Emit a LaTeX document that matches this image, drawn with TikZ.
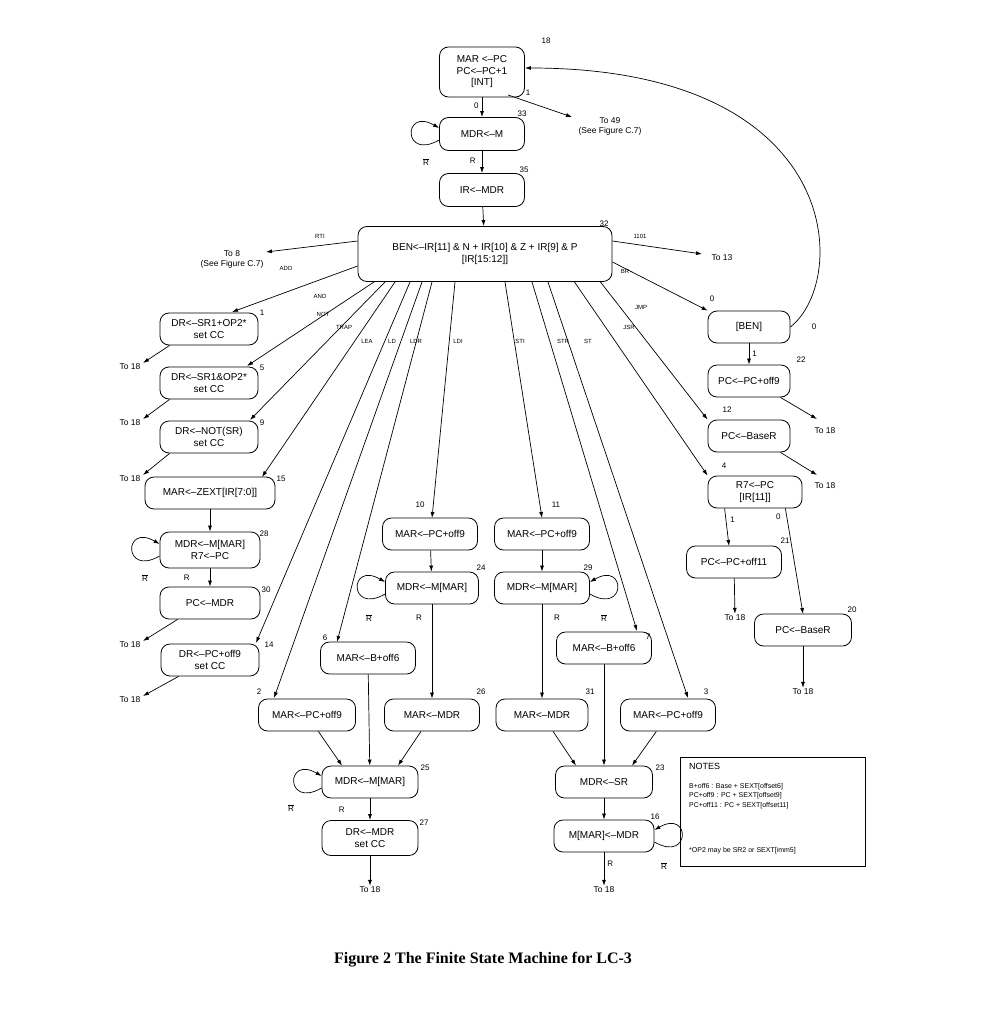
\documentclass[tikz,border=0pt]{standalone}
\usepackage{fontspec}
\setmainfont{Liberation Sans}
\usetikzlibrary{arrows.meta,calc}
\begin{document}
\begin{tikzpicture}[x=1pt,y=-1pt,
  st/.style={draw,rounded corners=9pt,line width=0.8pt,align=center,inner sep=1pt,minimum height=32pt,font=\fontsize{10}{11.5}\selectfont},
  arr/.style={-{Latex[length=6pt,width=4pt]},line width=0.7pt},
  num/.style={font=\fontsize{8}{8}\selectfont,inner sep=0pt},
  el/.style={font=\fontsize{6}{6}\selectfont,inner sep=0pt},
  to/.style={font=\fontsize{8.5}{10}\selectfont,inner sep=1pt,align=center}]
\useasboundingbox (0,0) rectangle (983,1017);
\fill[white] (0,0) rectangle (983,1017);
\newcommand{\rb}{$\overline{\mbox{R}}$}
% top
\node[st,minimum width=85pt,minimum height=50pt] (n18) at (482,72) {MAR <–PC\\PC<–PC+1\\{[INT]}};
\node[num] at (546,41) {18};
\node[st,minimum width=85pt,minimum height=33pt] (n33) at (482,134) {MDR<–M};
\node[num] at (522,114) {33};
\node[st,minimum width=85pt,minimum height=33pt] (n35) at (482,190) {IR<–MDR};
\node[num] at (524,170) {35};
\node[st,minimum width=254pt,minimum height=55pt] (n32) at (485,254) {BEN<–IR[11] \& N + IR[10] \& Z + IR[9] \& P\\{[IR[15:12]]}};
\node[num] at (604,224) {32};
\draw[arr] (n18) -- node[num,left=3pt,pos=0.4]{0} (n33);
\draw[arr] (n33) -- node[num,left=6pt,pos=0.45]{R} (n35);
\node[num] at (426,162) {\rb};
\draw[arr] ([yshift=-6pt]n33.west) to[out=210,in=150,looseness=9] ([yshift=6pt]n33.west);
\draw[arr] (n35) -- (n32);
\node[to] (t49) at (610,126) {To 49\\(See Figure C.7)};
\draw[arr] (508,95) -- (572,117);
\node[num] at (528,93) {1};
% RTI / 1101
\node[to] (t8) at (232,259) {To 8\\(See Figure C.7)};
\draw[arr] (n32.west|-0,241) -- (266,252);
\node[el] at (320,236) {RTI};
\node[to] (t13) at (722,258) {To 13};
\draw[arr] (n32.east|-0,241) -- (702,254);
\node[el] at (640,236) {1101};
% BR
\node[st,minimum width=82pt] (ben) at (749,327) {[BEN]};
\draw[arr] (n32.east|-0,262) -- (ben.north west);
\node[el] at (625,271) {BR};
\node[num] at (712,299) {0};
\draw[arr] (ben.east) .. controls (850,280) and (845,68) .. (n18.east|-0,68);
\node[num] at (814,327) {0};
\node[st,minimum width=82pt] (n22) at (749,381) {PC<–PC+off9};
\node[num] at (801,360) {22};
\draw[arr] (ben) -- node[num,right=3pt]{1} (n22);
\node[to] (a1) at (825,431) {To 18};
\draw[arr] (n22.south east) ++(-10,0) -- (817,419);
\node[st,minimum width=82pt] (n12) at (749,436) {PC<–BaseR};
\node[num] at (727,410) {12};
\node[to] (a2) at (825,486) {To 18};
\draw[arr] (n12.south east) ++(-10,0) -- (817,475);
\node[st,minimum width=94pt] (n4) at (755,492) {R7<–PC\\{[IR[11]]}};
\node[num] at (724,466) {4};
\node[st,minimum width=95pt] (n21) at (734,562) {PC<–PC+off11};
\node[num] at (785,541) {21};
\draw[arr] (n4.south west) ++(17,0) -- node[num,right=4pt,pos=0.3]{1} (729,546);
\node[st,minimum width=97pt] (n20) at (803,630) {PC<–BaseR};
\node[num] at (852,610) {20};
\draw[arr] (n4.south east) ++(-17,0) -- node[num,left=6pt,pos=0.08]{0} (803,614);
\node[to] (a3) at (735,618) {To 18};
\draw[arr] (n21) -- (a3);
\node[to] (a4) at (803,692) {To 18};
\draw[arr] (n20) -- (a4);
\draw[arr] (n32.south east) ++(-12,0) -- (n12.north west);
\node[el] at (641,307) {JMP};
\draw[arr] (n32.south east) ++(-38,0) -- (n4.north west);
\node[el] at (629,327) {JSR};
% left column
\node[st,minimum width=98pt] (n1) at (209,329) {DR<–SR1+OP2*\\set CC};
\node[num] at (262,313) {1};
\draw[arr] (n32.west|-0,266) -- (232,312);
\node[el] at (286,268) {ADD};
\node[st,minimum width=98pt] (n5) at (209,383) {DR<–SR1\&OP2*\\set CC};
\node[num] at (262,368) {5};
\draw[arr] (374,282) -- (247,366);
\node[el] at (320,296) {AND};
\node[st,minimum width=98pt] (n9) at (209,437) {DR<–NOT(SR)\\set CC};
\node[num] at (262,423) {9};
\draw[arr] (385,282) -- (250,420);
\node[el] at (323,314) {NOT};
\node[st,minimum width=130pt] (n15) at (210,493) {MAR<–ZEXT[IR[7:0]]};
\node[num] at (281,479) {15};
\draw[arr] (395,282) -- (262,477);
\node[el] at (344,327) {TRAP};
\foreach \s/\y in {n1/367,n5/423,n9/479}{
  \node[to] (t\s) at (130,\y) {To 18};
  \draw[arr] ([xshift=10pt]\s.south west) -- (143,\y-4);}
\node[st,minimum width=100pt,minimum height=36pt] (n28) at (210,550) {MDR<–M[MAR]\\R7<–PC};
\node[num] at (264,534) {28};
\draw[arr] (n15) -- (n28);
\draw[arr] ([yshift=-6pt]n28.west) to[out=210,in=150,looseness=9] ([yshift=6pt]n28.west);
\node[num] at (145,578) {\rb};
\node[st,minimum width=100pt] (n30) at (210,603) {PC<–MDR};
\node[num] at (266,590) {30};
\draw[arr] (n28) -- node[num,left=20pt]{R} (n30);
\node[to] (t30) at (130,645) {To 18};
\draw[arr] ([xshift=18pt]n30.south west) -- (143,641);
\node[st,minimum width=98pt] (n14) at (210,660) {DR<–PC+off9\\set CC};
\node[num] at (269,645) {14};
\draw[arr] (410,282) -- (256,643);
\node[el] at (367,341) {LEA};
\node[to] (t14) at (130,700) {To 18};
\draw[arr] ([xshift=18pt]n14.south west) -- (143,696);
% middle left
\node[st,minimum width=95pt] (n6) at (368,658) {MAR<–B+off6};
\node[num] at (325,638) {6};
\draw[arr] (432,282) -- (337,642);
\node[el] at (416,341) {LDR};
\node[st,minimum width=97pt] (n2) at (307,715) {MAR<–PC+off9};
\node[num] at (259,692) {2};
\draw[arr] (422,282) -- (274,698);
\node[el] at (392,341) {LD};
\node[st,minimum width=95pt] (n10) at (430,534) {MAR<–PC+off9};
\node[num] at (420,505) {10};
\draw[arr] (455,282) -- (432,518);
\node[el] at (458,341) {LDI};
\node[st,minimum width=93pt] (n24) at (432,588) {MDR<–M[MAR]};
\node[num] at (481,568) {24};
\draw[arr] (n10) -- (n24);
\draw[arr] ([yshift=-6pt]n24.west) to[out=210,in=150,looseness=9] ([yshift=6pt]n24.west);
\node[num] at (369,618) {\rb};
\node[num] at (419,618) {R};
\node[st,minimum width=95pt] (n26) at (432,715) {MAR<–MDR};
\node[num] at (481,692) {26};
\draw[arr] (n24) -- (n26);
\node[st,minimum width=96pt] (n25) at (370,782) {MDR<–M[MAR]};
\node[num] at (425,768) {25};
\draw[arr] (n2) -- ([xshift=-28pt]n25.north);
\draw[arr] (n6) -- (n25);
\draw[arr] (n26) -- ([xshift=28pt]n25.north);
\draw[arr] ([yshift=-6pt]n25.west) to[out=210,in=150,looseness=9] ([yshift=6pt]n25.west);
\node[num] at (291,808) {\rb};
\node[st,minimum width=96pt,minimum height=35pt] (n27) at (370,838) {DR<–MDR\\set CC};
\node[num] at (424,823) {27};
\draw[arr] (n25) -- node[num,left=25pt]{R} (n27);
\node[to] (t27) at (370,890) {To 18};
\draw[arr] (n27) -- (t27);
% middle right
\node[st,minimum width=95pt] (n11) at (542,534) {MAR<–PC+off9};
\node[num] at (556,505) {11};
\draw[arr] (505,282) -- (542,518);
\node[el] at (520,341) {STI};
\node[st,minimum width=95pt] (n29) at (542,588) {MDR<–M[MAR]};
\node[num] at (588,568) {29};
\draw[arr] (n11) -- (n29);
\draw[arr] ([yshift=-6pt]n29.east) to[out=-30,in=30,looseness=9] ([yshift=6pt]n29.east);
\node[num] at (557,618) {R};
\node[num] at (604,618) {\rb};
\node[st,minimum width=95pt] (n7) at (604,648) {MAR<–B+off6};
\node[num] at (648,637) {7};
\draw[arr] (532,282) -- (637,631);
\node[el] at (563,341) {STR};
\node[st,minimum width=92pt] (n31) at (542,715) {MAR<–MDR};
\node[num] at (590,692) {31};
\draw[arr] (n29) -- (n31);
\node[st,minimum width=95pt] (n3) at (668,715) {MAR<–PC+off9};
\node[num] at (706,692) {3};
\draw[arr] (548,282) -- (688,698);
\node[el] at (588,341) {ST};
\node[st,minimum width=97pt] (n23) at (604,782) {MDR<–SR};
\node[num] at (660,768) {23};
\draw[arr] (n31) -- ([xshift=-28pt]n23.north);
\draw[arr] (n7) -- (n23);
\draw[arr] (n3) -- ([xshift=28pt]n23.north);
\node[st,minimum width=100pt] (n16) at (604,836) {M[MAR]<–MDR};
\node[num] at (655,817) {16};
\draw[arr] (n23) -- (n16);
\draw[arr] ([yshift=-6pt]n16.east) to[out=-30,in=30,looseness=9] ([yshift=6pt]n16.east);
\node[num] at (664,866) {\rb};
\node[to] (t16) at (604,890) {To 18};
\draw[arr] (n16) -- node[num,right=3pt,pos=0.35]{R} (t16);
% notes
\node[draw,line width=0.8pt,minimum width=185pt,minimum height=109pt,inner sep=0pt] (notes) at (772.5,811.5) {};
\node[anchor=north west,font=\fontsize{9}{10}\selectfont,inner sep=0pt] (nt) at (689,763) {NOTES};
\node[anchor=north west,align=left,font=\fontsize{7}{9.5}\selectfont,inner sep=0pt] (nb) at (689,783) {B+off6 : Base + SEXT[offset6]\\PC+off9 : PC + SEXT[offset9]\\PC+off11 : PC + SEXT[offset11]};
\node[anchor=north west,font=\fontsize{7}{8}\selectfont,inner sep=0pt] (nc) at (689,847) {*OP2 may be SR2 or SEXT[imm5]};
% caption
\node[font=\fontspec{Liberation Serif}\bfseries\fontsize{16}{19}\selectfont] (cap) at (483,960) {Figure 2 The Finite State Machine for LC-3};
\end{tikzpicture}
\end{document}
